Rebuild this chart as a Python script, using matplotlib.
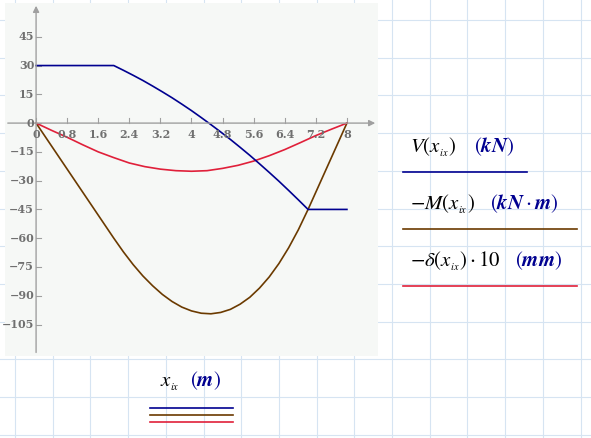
import matplotlib
matplotlib.use("Agg")
import matplotlib.pyplot as plt
import numpy as np

plt.rcParams['mathtext.fontset'] = 'stix'

x_v = [0, 0.5, 1, 1.5, 2, 2.25, 2.5, 2.75, 3, 3.25, 3.5, 3.75, 4, 4.25, 4.5, 4.75, 5, 5.25, 5.5, 5.75, 6,
       6.25, 6.5, 6.75, 7, 7.5, 8]
V = [30, 30, 30, 30, 30, 27.5, 24.9, 22.2, 19.3, 16.3, 13.2, 9.9, 6.5, 2.9, -0.8, -4.6, -8.5, -12.6, -16.8,
     -21.2, -25.7, -30.3, -35.1, -40, -45, -45, -45]
negM = [0, -15, -30, -45, -60, -67.2, -73.8, -79.7, -84.8, -89.3, -93, -95.9, -97.9, -99.1, -99.4, -98.7,
        -97.1, -94.4, -90.8, -86, -80.2, -73.2, -65, -55.6, -45, -22.5, 0]
x_d = [0, 0.4, 0.8, 1.2, 1.6, 2.0, 2.4, 2.8, 3.2, 3.6, 4.0, 4.4, 4.8, 5.2, 5.6, 6.0, 6.4, 6.8, 7.2, 7.6, 8]
negD10 = [0, -3.8, -7.4, -11.3, -15, -18, -20.8, -22.7, -24, -24.8, -25.1, -24.8, -23.6, -22, -19.8, -17,
          -13.8, -10.2, -6.5, -3.2, 0]
xticks = [0, 0.8, 1.6, 2.4, 3.2, 4, 4.8, 5.6, 6.4, 7.2, 8]
xticklabels = ['0', '0.8', '1.6', '2.4', '3.2', '4', '4.8', '5.6', '6.4', '7.2', '8']
yticks = [45, 30, 15, 0, -15, -30, -45, -60, -75, -90, -105]
yticklabels = ['45', '30', '15', '0', '−15', '−30', '−45', '−60', '−75', '−90', '−105']

W, H = 591, 438
fig = plt.figure(figsize=(W/100, H/100), dpi=100)
fig.patch.set_facecolor('white')

bg = fig.add_axes([0, 0, 1, 1])
bg.set_xlim(0, W); bg.set_ylim(H, 0); bg.axis('off')
for gx in np.arange(15, W, 37.7):
    bg.axvline(gx, color='#d6e4f2', lw=0.8)
for gy in np.arange(20, H, 37.7):
    bg.axhline(gy, color='#d6e4f2', lw=0.8)

L, R, T, B = 5, 378, 3, 356
ax = fig.add_axes([L/W, 1-B/H, (R-L)/W, (B-T)/H])
ax.set_facecolor('#f6f8f6')
ax.set_xlim(-0.8, 8.8)
ax.set_ylim(-121.4, 62.6)
for s in ax.spines.values():
    s.set_visible(False)
ax.set_xticks([]); ax.set_yticks([])

ax.annotate('', xy=(8.8, 0), xytext=(-0.8, 0), arrowprops=dict(arrowstyle='-|>', color='#a0a0a0', lw=1, mutation_scale=9))
ax.annotate('', xy=(0, 62.6), xytext=(0, -121), arrowprops=dict(arrowstyle='-|>', color='#a0a0a0', lw=1, mutation_scale=9))
for tk, lab in zip(xticks, xticklabels):
    ax.plot([tk, tk], [0, 2.5], color='#a0a0a0', lw=0.8)
    ax.text(tk, -3, lab, ha='center', va='top', fontsize=8, family='DejaVu Serif', color='#707070', fontweight='bold')
for tk, lab in zip(yticks, yticklabels):
    ax.plot([0, 0.12], [tk, tk], color='#a0a0a0', lw=0.8)
    ax.text(-0.05, tk, lab, ha='right', va='center', fontsize=8, family='DejaVu Serif', color='#707070', fontweight='bold')

ax.plot(x_v, negM, color='#6b3a00', lw=1.2)
ax.plot(x_d, negD10, color='#e0203a', lw=1.2)
ax.plot(x_v, V, color='#000090', lw=1.2)

def t(px, py, s, c='black', size=15):
    bg.text(px, py, s, color=c, fontsize=size, va='baseline', ha='left')

t(410, 152, r'$V\left(x_{_{ix}}\right)$')
t(474, 152, r'$(\boldsymbol{kN})$', c='#000090')
bg.plot([403, 527], [172, 172], color='#000090', lw=1.2)
t(410, 209, r'$-M\left(x_{_{ix}}\right)$')
t(490, 209, r'$(\boldsymbol{kN}\cdot\boldsymbol{m})$', c='#000090')
bg.plot([403, 577], [229, 229], color='#6b3a00', lw=1.2)
t(410, 266, r'$-\delta\left(x_{_{ix}}\right)\cdot 10$')
t(515, 266, r'$(\boldsymbol{mm})$', c='#000090')
bg.plot([403, 577], [286, 286], color='#e0203a', lw=1.2)

t(160, 386, r'$x_{_{ix}}$')
t(190, 386, r'$(\boldsymbol{m})$', c='#000090')
bg.plot([150, 233], [408, 408], color='#000090', lw=1.2)
bg.plot([150, 233], [415, 415], color='#6b3a00', lw=1.2)
bg.plot([150, 233], [422, 422], color='#e0203a', lw=1.2)

fig.savefig('out.png', dpi=100)
